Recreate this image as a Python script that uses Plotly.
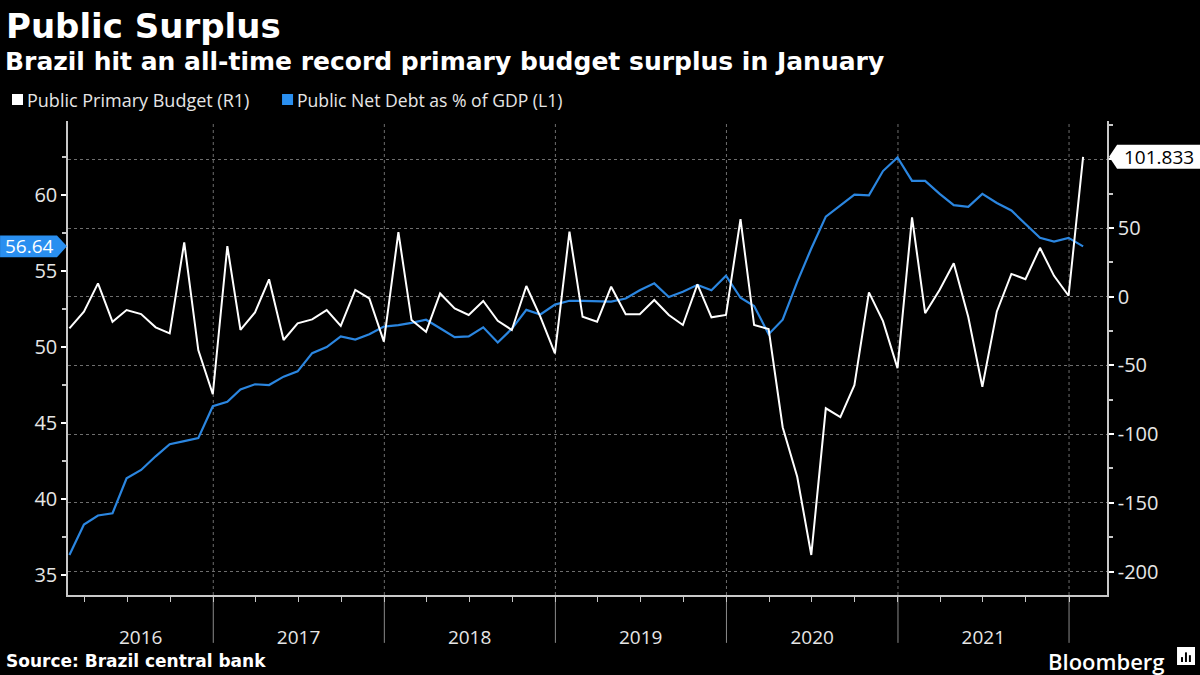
import pandas as pd
import plotly.graph_objects as go

# ---------------- data ----------------
months = list(pd.date_range("2016-02-01", periods=72, freq="MS") + pd.offsets.MonthEnd(0))

primary_budget = [  # BRL bn, right axis
    -23.0, -10.9, 9.7, -18.2, -9.7, -12.6, -22.3, -26.7, 39.5, -38.8, -71.0,
    36.8, -24.2, -11.4, 12.7, -31.5, -19.4, -16.5, -9.7, -21.3, 4.9, -1.2, -32.7,
    47.0, -17.0, -25.5, 2.4, -8.5, -13.3, -3.1, -17.5, -24.2, 7.8, -14.6, -41.2,
    47.3, -14.6, -18.2, 7.3, -12.8, -12.8, -2.4, -13.3, -20.6, 9.0, -15.0, -13.3,
    56.5, -20.6, -23.5, -95.0, -131.0, -188.0, -81.2, -87.6, -64.4, 3.2, -17.8, -52.0,
    57.8, -12.0, 5.1, 24.3, -14.8, -65.5, -10.7, 16.6, 12.7, 35.6, 15.2, 0.7,
    101.833,
]

net_debt = [  # % of GDP, left axis
    36.3, 38.3, 38.9, 39.05, 41.35, 41.9, 42.8, 43.6, 43.8, 44.0, 46.1,
    46.4, 47.2, 47.55, 47.5, 48.05, 48.4, 49.6, 50.0, 50.7, 50.5, 50.85, 51.35,
    51.45, 51.6, 51.8, 51.24, 50.65, 50.7, 51.3, 50.3, 51.2, 52.45, 52.15, 52.8,
    53.05, 53.05, 53.0, 53.0, 53.2, 53.75, 54.2, 53.3, 53.65, 54.1, 53.75, 54.7,
    53.25, 52.7, 50.85, 51.8, 54.3, 56.5, 58.6, 59.35, 60.05, 60.0, 61.6, 62.5,
    60.95, 60.95, 60.1, 59.35, 59.25, 60.1, 59.5, 59.0, 58.1, 57.2, 56.95, 57.2,
    56.64,
]

year_labels = ["2016", "2017", "2018", "2019", "2020", "2021"]
year_label_dates = ["2016-07-30", "2017-07-02", "2018-07-02", "2019-07-02", "2020-07-02", "2021-07-02"]
year_starts = ["2017-01-01", "2018-01-01", "2019-01-01", "2020-01-01", "2021-01-01", "2022-01-01"]

right_tickvals = [-200, -150, -100, -50, 0, 50, 100]
right_ticktext = ["-200", "-150", "-100", "-50", "0", "50", ""]

x_range = ["2016-02-26", "2022-03-23"]
left_range = [33.66, 64.9]
right_range = [-217.1, 127.9]

BLUE = "#2b86e0"
TAGBLUE = "#2a8ff0"
WHITE = "#ffffff"
GRID = "#6e6e6e"
AXIS = "#c8c8c8"
TXT = "#e6e6e6"
FONT = "Open Sans"
BOLD = "DejaVu Sans"

fig = go.Figure()
fig.add_trace(go.Scatter(x=months, y=net_debt, mode="lines", name="Public Net Debt as % of GDP (L1)",
                         line=dict(color=BLUE, width=2.2), yaxis="y", showlegend=False))
fig.add_trace(go.Scatter(x=months, y=primary_budget, mode="lines", name="Public Primary Budget (R1)",
                         line=dict(color=WHITE, width=2), yaxis="y2", showlegend=False))

shapes = []
for d in year_starts:
    shapes.append(dict(type="line", xref="x", yref="paper", x0=d, x1=d, y0=0, y1=1,
                       line=dict(color=GRID, width=1, dash="dot"), layer="below"))
    shapes.append(dict(type="line", xref="x", yref="paper", x0=d, x1=d, y0=-0.101, y1=0,
                       line=dict(color="#8a8a8a", width=1), layer="below"))

# legend squares
shapes.append(dict(type="rect", xref="paper", yref="paper", x0=-0.0539, x1=-0.0433, y0=1.0338, y1=1.057,
                   fillcolor=WHITE, line=dict(width=0)))
shapes.append(dict(type="rect", xref="paper", yref="paper", x0=0.2060, x1=0.2166, y0=1.0338, y1=1.057,
                   fillcolor=TAGBLUE, line=dict(width=0)))

# Bloomberg mark
shapes.append(dict(type="rect", xref="paper", yref="paper", x0=1.0674, x1=1.0847, y0=-0.1097, y1=-0.1477,
                   fillcolor=WHITE, line=dict(width=0)))
for bx, top in [(1.0722, -0.131), (1.0760, -0.121), (1.0798, -0.127)]:
    shapes.append(dict(type="line", xref="paper", yref="paper", x0=bx, x1=bx, y0=-0.1413, y1=top,
                       line=dict(color="#000000", width=2)))

# value tags
lv = net_debt[-1]
shapes.append(dict(type="path", xref="paper", yref="y",
                   path=f"M -0.0654,{lv-0.72} L -0.0106,{lv-0.72} L -0.0010,{lv} L -0.0106,{lv+0.72} L -0.0654,{lv+0.72} Z",
                   fillcolor=TAGBLUE, line=dict(width=0)))
rv = primary_budget[-1]
shapes.append(dict(type="path", xref="paper", yref="y2",
                   path=f"M 1.0020,{rv} L 1.0097,{rv-8.7} L 1.0895,{rv-8.7} L 1.0895,{rv+8.7} L 1.0097,{rv+8.7} Z",
                   fillcolor=WHITE, line=dict(width=0)))

annotations = [
    dict(text="<b>Public Surplus</b>", x=-0.0615, y=1.201, xref="paper", yref="paper",
         xanchor="left", yanchor="middle", showarrow=False, font=dict(family=BOLD, size=34, color=WHITE)),
    dict(text="<b>Brazil hit an all-time record primary budget surplus in January</b>", x=-0.0625, y=1.126,
         xref="paper", yref="paper", xanchor="left", yanchor="middle", showarrow=False,
         font=dict(family=BOLD, size=25, color=WHITE)),
    dict(text="Public Primary Budget (R1)", x=-0.0414, y=1.0443, xref="paper", yref="paper",
         xanchor="left", yanchor="middle", showarrow=False, font=dict(family=FONT, size=18, color=TXT)),
    dict(text="Public Net Debt as % of GDP (L1)", x=0.2185, y=1.0443, xref="paper", yref="paper",
         xanchor="left", yanchor="middle", showarrow=False, font=dict(family=FONT, size=17.6, color=TXT)),
    dict(text="<b>Source: Brazil central bank</b>", x=-0.0615, y=-0.139, xref="paper", yref="paper",
         xanchor="left", yanchor="middle", showarrow=False, font=dict(family=BOLD, size=17, color=WHITE)),
    dict(text="Bloomberg", x=1.0577, y=-0.139, xref="paper", yref="paper",
         xanchor="right", yanchor="middle", showarrow=False,
         font=dict(family=FONT, size=22, color=WHITE, weight=600)),
    dict(text=f"{lv:.2f}", x=-0.0375, y=lv, xref="paper", yref="y", xanchor="center", yanchor="middle",
         showarrow=False, font=dict(family=FONT, size=19, color=WHITE)),
    dict(text=f"{rv:.3f}", x=1.05, y=rv, xref="paper", yref="y2", xanchor="center", yanchor="middle",
         showarrow=False, font=dict(family=FONT, size=19, color="#000000")),
]

fig.update_layout(
    width=1200, height=675,
    paper_bgcolor="#000000", plot_bgcolor="#000000",
    margin=dict(l=68, r=93, t=121, b=80),
    showlegend=False,
    shapes=shapes, annotations=annotations,
    xaxis=dict(type="date", range=x_range, tickvals=year_label_dates, ticktext=year_labels,
               ticks="", showgrid=False, zeroline=False, showline=True, linecolor=AXIS, linewidth=1.5,
               ticklabelstandoff=24, tickfont=dict(family=FONT, size=19, color=TXT),
               minor=dict(dtick="M3", tick0="2016-01-01", ticks="outside", ticklen=5, tickcolor=AXIS,
                          tickwidth=1, showgrid=False)),
    yaxis=dict(range=left_range, dtick=5, tick0=0, side="left", showgrid=False, zeroline=False,
               showline=True, linecolor=AXIS, linewidth=1.5, ticks="outside", ticklen=5, tickwidth=2,
               tickcolor=WHITE, tickfont=dict(family=FONT, size=20, color=TXT),
               minor=dict(dtick=2.5, ticks="outside", ticklen=4, tickcolor=AXIS, showgrid=False)),
    yaxis2=dict(range=right_range, tickvals=right_tickvals, ticktext=right_ticktext, side="right",
                overlaying="y", zeroline=False,
                showgrid=True, gridcolor=GRID, griddash="dot", gridwidth=1,
                showline=True, linecolor=AXIS, linewidth=1.5, ticks="outside", ticklen=5, tickwidth=2,
                tickcolor=WHITE, tickfont=dict(family=FONT, size=20, color=TXT),
                minor=dict(dtick=25, ticks="outside", ticklen=4, tickcolor=AXIS, showgrid=False)),
)

fig.write_html("out.html")
